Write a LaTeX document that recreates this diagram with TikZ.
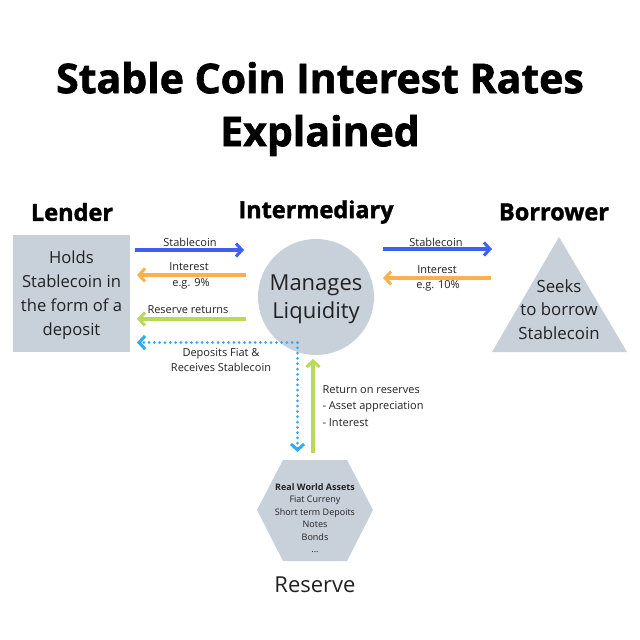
\documentclass[tikz,border=0pt]{standalone}
\usepackage{fontspec}
\setmainfont{Open Sans}
\newfontfamily\heavyfont{Open Sans}[BoldFeatures={FakeBold=1.6}]
\usetikzlibrary{arrows.meta,shapes.geometric,calc}
\definecolor{boxgray}{HTML}{C8D0DA}
\definecolor{arrblue}{HTML}{3F5FF0}
\definecolor{arrorange}{HTML}{FDB14E}
\definecolor{arrgreen}{HTML}{B9D95A}
\definecolor{dotblue}{HTML}{2EACF5}
\definecolor{txt}{HTML}{222222}
\begin{document}
\begin{tikzpicture}[x=1pt,y=-1pt,
  title/.style={font=\heavyfont\fontsize{41}{53}\selectfont\bfseries, align=center, text=black},
  head/.style={font=\heavyfont\fontsize{23.5}{28}\selectfont\bfseries, text=black},
  body/.style={font=\fontsize{16.6}{24}\selectfont, align=center, text=txt},
  lbl/.style={font=\fontsize{11}{15}\selectfont, align=center, text=txt},
  small/.style={font=\fontsize{9}{12.5}\selectfont, align=center, text=txt},
  arrtip/.style={-{Straight Barb[length=6pt,width=13pt,line width=3pt]}},
  arr/.style={line width=3.2pt, arrtip},
  dotted line/.style={line width=3pt, line cap=round, dash pattern=on 0pt off 5.3pt, dotblue}
]
\useasboundingbox (0,0) rectangle (640,640);
\fill[white] (0,0) rectangle (640,640);

\node[title] (title) at (320,109) {Stable Coin Interest Rates\\Explained};

\node[head] (hl) at (72,212) {Lender};
\node[head] (hi) at (316,212) {Intermediary};
\node[head] (hb) at (554,212) {Borrower};

\node[fill=boxgray, minimum width=117pt, minimum height=117pt, inner sep=0pt] (lender) at (71.5,293.5) {};
\node[body] (ltext) at (71.5,295.5) {Holds\\Stablecoin in\\the form of a\\deposit};

\node[circle, fill=boxgray, minimum size=116pt, inner sep=0pt] (inter) at (316,297) {};
\node[body, font=\fontsize{22}{28}\selectfont] (itext) at (316,299) {Manages\\Liquidity};

\fill[boxgray] (559,237) -- (627,352) -- (492,352) -- cycle;
\node[body, font=\fontsize{16.8}{23.5}\selectfont] (btext) at (559,309.5) {Seeks\\to borrow\\Stablecoin};

\fill[boxgray] (257,510) -- (283,460) -- (347,460) -- (373,510) -- (347,561) -- (283,561) -- cycle;
\node[small] (rtext) at (315,518) {\textbf{Real World Assets}\\Fiat Curreny\\Short term Depoits\\Notes\\Bonds\\...};
\node[font=\fontsize{22}{26}\selectfont, text=txt] (reslbl) at (315,585) {Reserve};

% left arrows
\coordinate (l1a) at (135,250); \coordinate (l1b) at (244,250);
\draw[arr, arrblue] (l1a) -- (l1b);
\node[lbl] at (190,242) {Stablecoin};
\coordinate (l2a) at (246,275); \coordinate (l2b) at (137,275);
\draw[arr, arrorange] (l2a) -- (l2b);
\node[lbl] at (189,267) {Interest};
\node[lbl] at (191,284) {e.g. 9\%};
\coordinate (l3a) at (246,319); \coordinate (l3b) at (137,319);
\draw[arr, arrgreen] (l3a) -- (l3b);
\node[lbl] at (188,310) {Reserve returns};

% right arrows
\coordinate (r1a) at (383,249); \coordinate (r1b) at (492,249);
\draw[arr, arrblue] (r1a) -- (r1b);
\node[lbl] at (436,242) {Stablecoin};
\coordinate (r2a) at (491,278); \coordinate (r2b) at (383,278);
\draw[arr, arrorange] (r2a) -- (r2b);
\node[lbl] at (437,270) {Interest};
\node[lbl] at (438,286) {e.g. 10\%};

% dotted
\coordinate (dc) at (297.5,342.5);
\coordinate (dl) at (137,342.5);
\coordinate (dd) at (297.5,452);
\draw[dotted line] (dc) -- (dl);
\draw[dotted line] (dc) -- (dd);
\draw[dotblue, line width=3pt, arrtip] ($(dl)+(3,0)$) -- (dl);
\draw[dotblue, line width=3pt, arrtip] ($(dd)+(0,-3)$) -- (dd);
\node[lbl] at (221,360) {Deposits Fiat \&\\Receives Stablecoin};

% green up
\coordinate (ga) at (313,453); \coordinate (gb) at (313,359);
\draw[arr, arrgreen] (ga) -- (gb);
\node[lbl, align=left, anchor=west, font=\fontsize{11}{16.5}\selectfont] at (319,406) {Return on reserves\\- Asset appreciation\\- Interest};
\end{tikzpicture}
\end{document}
